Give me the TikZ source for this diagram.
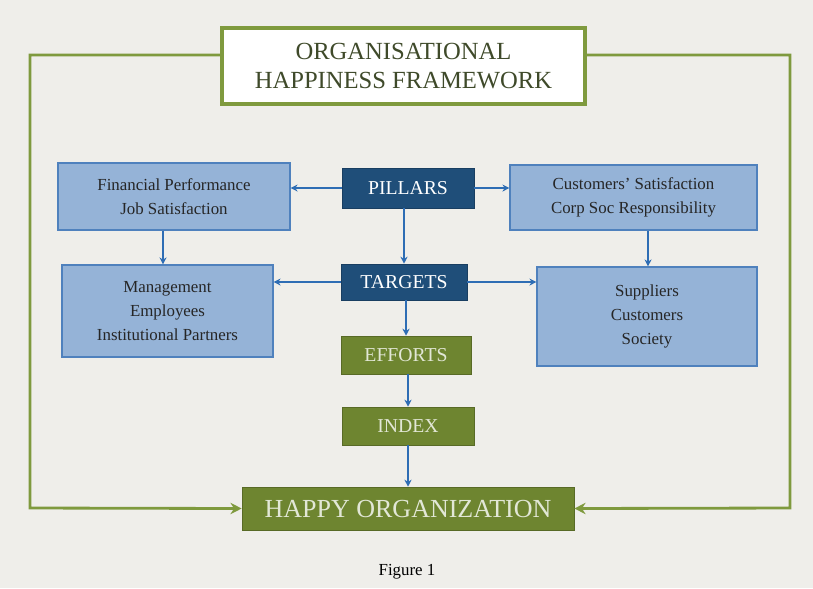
\documentclass[tikz,border=0pt]{standalone}
\usepackage{fontspec}
\setmainfont{Liberation Serif}
\usetikzlibrary{arrows.meta}
\definecolor{bg}{HTML}{EFEEEA}
\definecolor{grn}{HTML}{7F9A3E}
\definecolor{olive}{HTML}{6E8530}
\definecolor{lblue}{HTML}{95B3D7}
\definecolor{bblue}{HTML}{4F81BD}
\definecolor{dblue}{HTML}{1F4E79}
\definecolor{arr}{HTML}{2E6DB4}
\definecolor{ttl}{HTML}{3F4A2A}
\begin{document}
\begin{tikzpicture}[x=0.025cm,y=-0.025cm,
 lb/.style={draw=bblue,fill=lblue,line width=0.8pt,align=center,font=\fontsize{12}{17}\selectfont,text=black!85},
 db/.style={draw=dblue!80!black,fill=dblue,text=white,font=\fontsize{14}{16}\selectfont},
 ob/.style={draw=olive!80!black,fill=olive,text=white!80!olive,font=\fontsize{14}{16}\selectfont},
 ar/.style={draw=arr,line width=0.9pt,-{Stealth[length=5pt,width=5pt]}},
 gr/.style={draw=grn,line width=2pt,-{Stealth[length=8pt,width=8pt]}}]
\fill[bg] (0,0) rectangle (813,588);
\node[draw=grn,fill=white,line width=2.2pt,minimum width=363*0.025cm,minimum height=76*0.025cm,align=center,text=ttl,font=\fontsize{17.5}{21}\selectfont] (title) at (403.5,66) {ORGANISATIONAL\\HAPPINESS FRAMEWORK};
\node[lb,minimum width=232*0.025cm,minimum height=67*0.025cm] (lt) at (174,196.5) {Financial Performance\\Job Satisfaction};
\node[lb,minimum width=247*0.025cm,minimum height=65*0.025cm] (rt) at (633.5,197.5) {Customers' Satisfaction\\Corp Soc Responsibility};
\node[lb,minimum width=211*0.025cm,minimum height=92*0.025cm] (lm) at (167.5,311) {Management\\Employees\\Institutional Partners};
\node[lb,minimum width=220*0.025cm,minimum height=99*0.025cm] (rm) at (647,316.5) {Suppliers\\Customers\\Society};
\node[db,minimum width=132*0.025cm,minimum height=40*0.025cm] (pil) at (408,188) {PILLARS};
\node[db,minimum width=126*0.025cm,minimum height=36*0.025cm] (tar) at (404,282) {TARGETS};
\node[ob,minimum width=130*0.025cm,minimum height=38*0.025cm] (eff) at (406,355) {EFFORTS};
\node[ob,minimum width=132*0.025cm,minimum height=38*0.025cm] (ind) at (408,426) {INDEX};
\node[ob,minimum width=332*0.025cm,minimum height=43*0.025cm,font=\fontsize{18.5}{22}\selectfont] (hap) at (408,508.5) {HAPPY ORGANIZATION};
\node[font=\fontsize{12}{14}\selectfont] (fig) at (407,572) {Figure 1};
\draw[ar] (pil.west) -- (lt.east |- pil.west);
\draw[ar] (pil.east) -- (rt.west |- pil.east);
\draw[ar] (pil.south -| tar.north) -- (tar.north);
\draw[ar] (lt.south -| 163,0) -- (lm.north -| 163,0);
\draw[ar] (rt.south -| 648,0) -- (rm.north -| 648,0);
\draw[ar] (tar.west) -- (lm.east |- tar.west);
\draw[ar] (tar.east) -- (rm.west |- tar.east);
\draw[ar] (tar.south -| eff.north) -- (eff.north);
\draw[ar] (eff.south -| ind.north) -- (ind.north);
\draw[ar] (ind.south) -- (hap.north -| ind.south);
\draw[gr] (title.west |- 0,55) -- (30,55) -- (30,508) -- (hap.west);
\draw[gr] (title.east |- 0,55) -- (790,55) -- (790,508) -- (hap.east);
\end{tikzpicture}
\end{document}
